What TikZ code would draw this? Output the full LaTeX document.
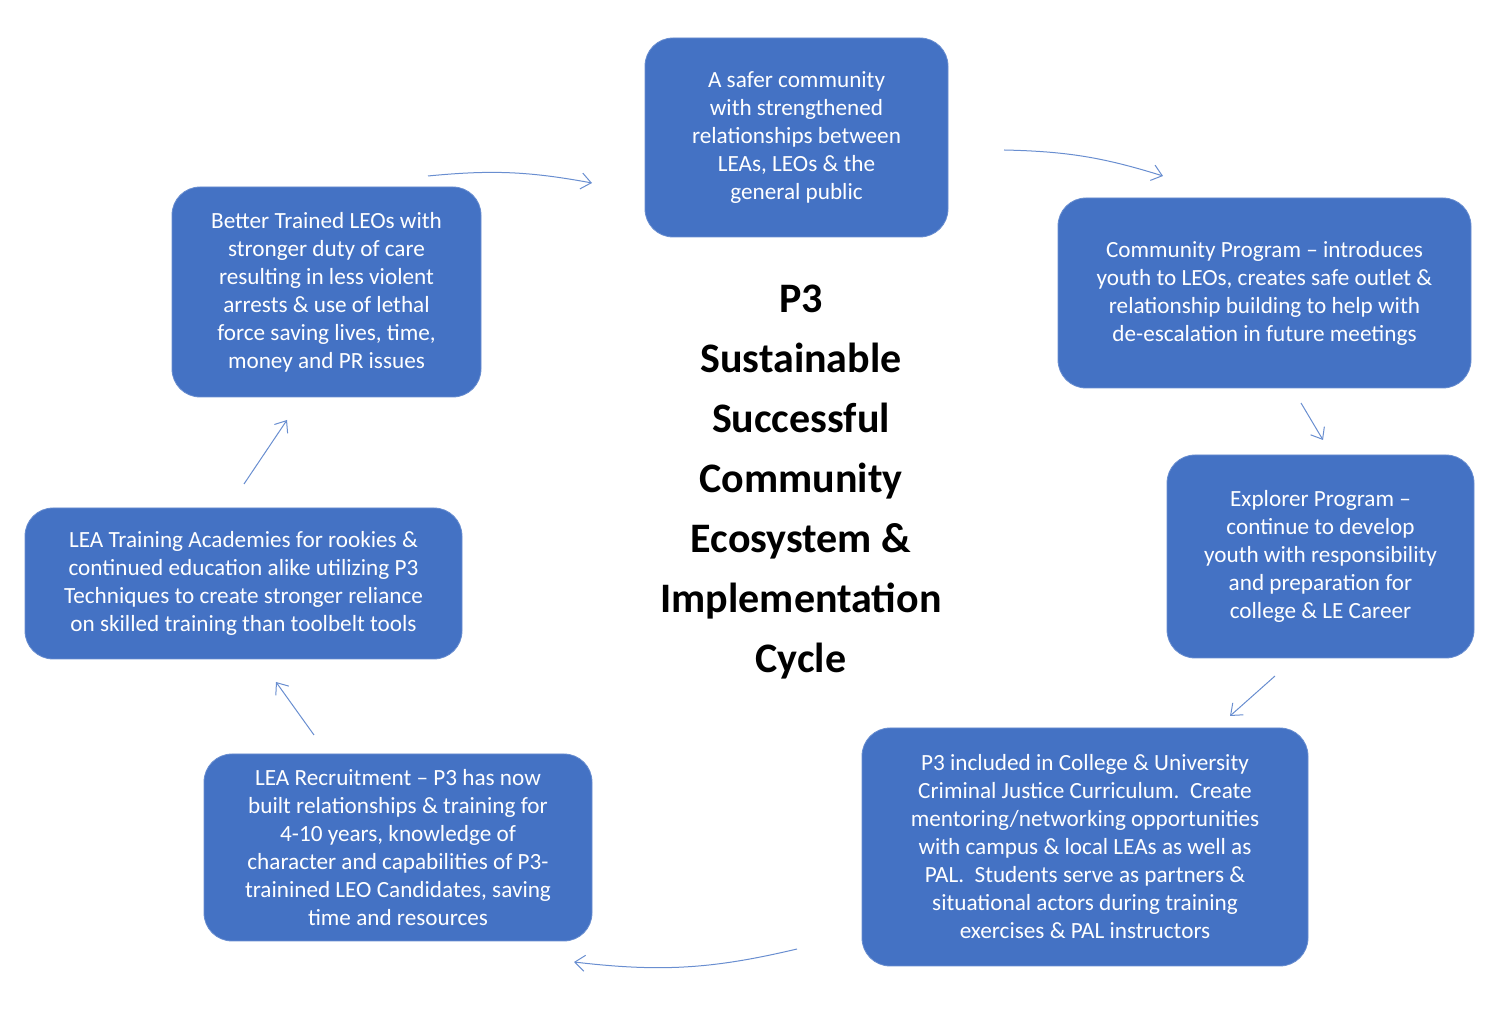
\documentclass[tikz,border=0pt]{standalone}
\usepackage{fontspec}
\setmainfont{Carlito}
\usetikzlibrary{arrows.meta}
\definecolor{boxblue}{HTML}{4472C4}
\begin{document}
\begin{tikzpicture}[x=0.5pt,y=-0.5pt,
 box/.style={fill=boxblue,draw=boxblue!80!white,rounded corners=14pt,text=white,align=center,font=\fontsize{11.6}{14}\selectfont,inner sep=0pt},
 arr/.style={draw=boxblue!80!white,line width=0.5pt,-{Straight Barb[length=5pt,width=8pt]}}]
\useasboundingbox (0,0) rectangle (1500,1020);
\node[box,minimum width=151.5pt,minimum height=99.5pt] (top) at (796.5,137.5) {A safer community\\with strengthened\\relationships between\\LEAs, LEOs \& the\\general public};
\node[box,minimum width=206.5pt,minimum height=95pt] (r1) at (1264.5,293) {Community Program – introduces\\youth to LEOs, creates safe outlet \&\\relationship building to help with\\de-escalation in future meetings};
\node[box,minimum width=153.5pt,minimum height=101.5pt] (r2) at (1320.5,556.5) {Explorer Program –\\continue to develop\\youth with responsibility\\and preparation for\\college \& LE Career};
\node[box,minimum width=223pt,minimum height=119pt] (br) at (1085,847) {P3 included in College \& University\\Criminal Justice Curriculum.\ \ Create\\mentoring/networking opportunities\\with campus \& local LEAs as well as\\PAL.\ \ Students serve as partners \&\\situational actors during training\\exercises \& PAL instructors};
\node[box,minimum width=194pt,minimum height=93.5pt] (bl) at (398,847.5) {LEA Recruitment – P3 has now\\built relationships \& training for\\4-10 years, knowledge of\\character and capabilities of P3-\\trainined LEO Candidates, saving\\time and resources};
\node[box,minimum width=218.5pt,minimum height=75.5pt] (l) at (243.5,583.5) {LEA Training Academies for rookies \&\\continued education alike utilizing P3\\Techniques to create stronger reliance\\on skilled training than toolbelt tools};
\node[box,minimum width=154.5pt,minimum height=105pt] (tl) at (326.5,292) {Better Trained LEOs with\\stronger duty of care\\resulting in less violent\\arrests \& use of lethal\\force saving lives, time,\\money and PR issues};
\node[align=center,font=\bfseries\fontsize{21}{30}\selectfont] (title) at (801,482) {P3\\Sustainable\\Successful\\Community\\Ecosystem \&\\Implementation\\Cycle};
\coordinate (a1s) at (428,176); \coordinate (a1e) at (592,183);
\coordinate (a2s) at (1004,150); \coordinate (a2e) at (1163,176);
\coordinate (a3s) at (1301,403); \coordinate (a3e) at (1323,440);
\coordinate (a4s) at (1275,676); \coordinate (a4e) at (1230,716);
\coordinate (a5s) at (797,949); \coordinate (a5e) at (574,962);
\coordinate (a6s) at (314,735); \coordinate (a6e) at (276,682);
\coordinate (a7s) at (244,484); \coordinate (a7e) at (287,420);
\draw[arr] (a1s) to[bend left=8] (a1e);
\draw[arr] (a2s) to[bend left=8] (a2e);
\draw[arr] (a3s) to (a3e);
\draw[arr] (a4s) to (a4e);
\draw[arr] (a5s) to[bend left=10] (a5e);
\draw[arr] (a6s) to (a6e);
\draw[arr] (a7s) to (a7e);
\end{tikzpicture}
\end{document}
